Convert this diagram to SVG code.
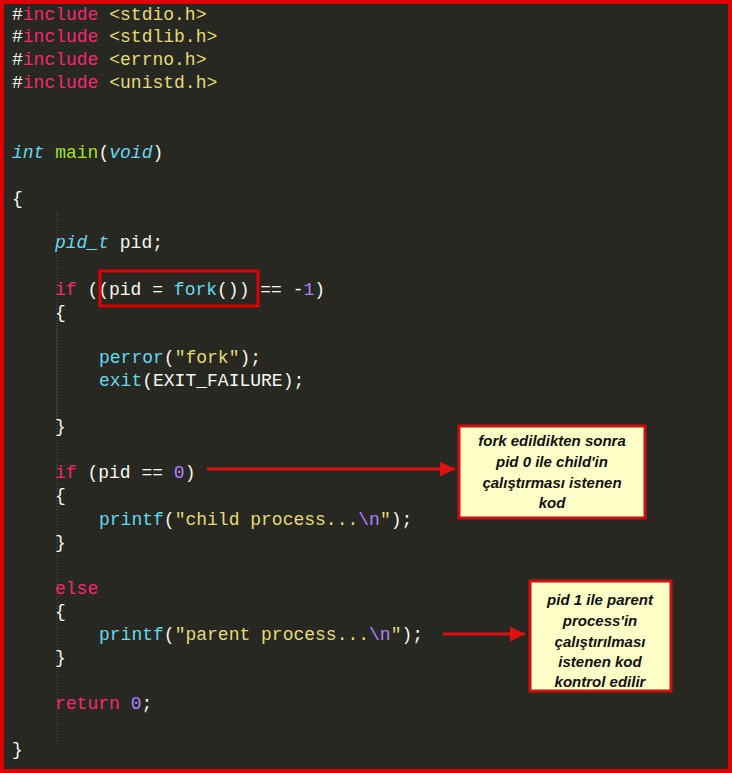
<svg xmlns="http://www.w3.org/2000/svg" width="732" height="773" viewBox="0 0 732 773">
<style>
.c{font-family:"Liberation Mono",monospace;font-size:18px;fill:#f8f8f2;white-space:pre}
.k{fill:#f92672}.s{fill:#e6db74}.t{fill:#66d9ef;font-style:italic}.f{fill:#a6e22e}.b{fill:#66d9ef}.n{fill:#ae81ff}
.note{font-family:"Liberation Sans",sans-serif;font-size:15px;font-style:italic;font-weight:bold;fill:#111;text-anchor:middle}
.box{fill:#ffffc8;stroke:#d01010;stroke-width:3}
</style>
<defs><marker id="ah" viewBox="0 0 10 10" refX="9" refY="5" markerWidth="5" markerHeight="4" orient="auto" markerUnits="userSpaceOnUse"><path d="M0,0L10,5L0,10z" fill="#e01010"/></marker>
<marker id="a" viewBox="0 0 10 10" refX="10" refY="5" markerWidth="8" markerHeight="5" orient="auto"><path d="M0,0L10,5L0,10z" fill="#e01010"/></marker></defs>
<rect x="0" y="0" width="732" height="773" fill="#272822"/>
<rect x="2" y="2" width="728" height="769" fill="none" stroke="#e00000" stroke-width="4"/>
<g stroke="#555" stroke-dasharray="1,2"><line x1="57" y1="212" x2="57" y2="745"/><line x1="57" y1="325" x2="57" y2="420" transform="translate(0,0)"/></g>
<g id="code" class="c">
<text x="12" y="20">#<tspan class="k">include</tspan> <tspan class="s">&lt;stdio.h&gt;</tspan></text>
<text x="12" y="42">#<tspan class="k">include</tspan> <tspan class="s">&lt;stdlib.h&gt;</tspan></text>
<text x="12" y="65">#<tspan class="k">include</tspan> <tspan class="s">&lt;errno.h&gt;</tspan></text>
<text x="12" y="88">#<tspan class="k">include</tspan> <tspan class="s">&lt;unistd.h&gt;</tspan></text>
<text x="12" y="158"><tspan class="t">int</tspan> <tspan class="f">main</tspan>(<tspan class="t">void</tspan>)</text>
<text x="12" y="204">{</text>
<text x="55" y="248"><tspan class="t">pid_t</tspan> pid;</text>
<text x="55" y="295"><tspan class="k">if</tspan> ((pid = <tspan class="b">fork</tspan>()) == -<tspan class="n">1</tspan>)</text>
<text x="55" y="318">{</text>
<text x="99" y="363"><tspan class="b">perror</tspan>(<tspan class="s">"fork"</tspan>);</text>
<text x="99" y="386"><tspan class="b">exit</tspan>(EXIT_FAILURE);</text>
<text x="55" y="432">}</text>
<text x="55" y="478"><tspan class="k">if</tspan> (pid == <tspan class="n">0</tspan>)</text>
<text x="55" y="501">{</text>
<text x="99" y="525"><tspan class="b">printf</tspan>(<tspan class="s">"child process...</tspan><tspan class="n">\n</tspan><tspan class="s">"</tspan>);</text>
<text x="55" y="548">}</text>
<text x="55" y="594" class="k">else</text>
<text x="55" y="617">{</text>
<text x="99" y="640"><tspan class="b">printf</tspan>(<tspan class="s">"parent process...</tspan><tspan class="n">\n</tspan><tspan class="s">"</tspan>);</text>
<text x="55" y="663">}</text>
<text x="55" y="709"><tspan class="k">return</tspan> <tspan class="n">0</tspan>;</text>
<text x="12" y="755">}</text>
</g>
<g id="highlight"><rect x="100" y="271" width="158" height="35" fill="none" stroke="#e00000" stroke-width="3"/></g>
<g id="connectors" stroke="#e01010" stroke-width="3" fill="none">
<line x1="207" y1="469" x2="455" y2="469" marker-end="url(#a)"/>
<line x1="443" y1="634" x2="525" y2="634" marker-end="url(#a)"/>
</g>
<g id="note1"><rect class="box" x="459" y="426" width="186" height="92"/>
<text class="note" x="552" y="446">fork edildikten sonra</text><text class="note" x="552" y="467">pid  0 ile child'in</text><text class="note" x="552" y="488">çalıştırması istenen</text><text class="note" x="552" y="508">kod</text></g>
<g id="note2"><rect class="box" x="530" y="581" width="141" height="110"/>
<text class="note" x="600" y="605">pid 1 ile parent</text><text class="note" x="600" y="626">process'in</text><text class="note" x="600" y="647">çalıştırılması</text><text class="note" x="600" y="667">istenen kod</text><text class="note" x="600" y="687">kontrol edilir</text></g>
</svg>
